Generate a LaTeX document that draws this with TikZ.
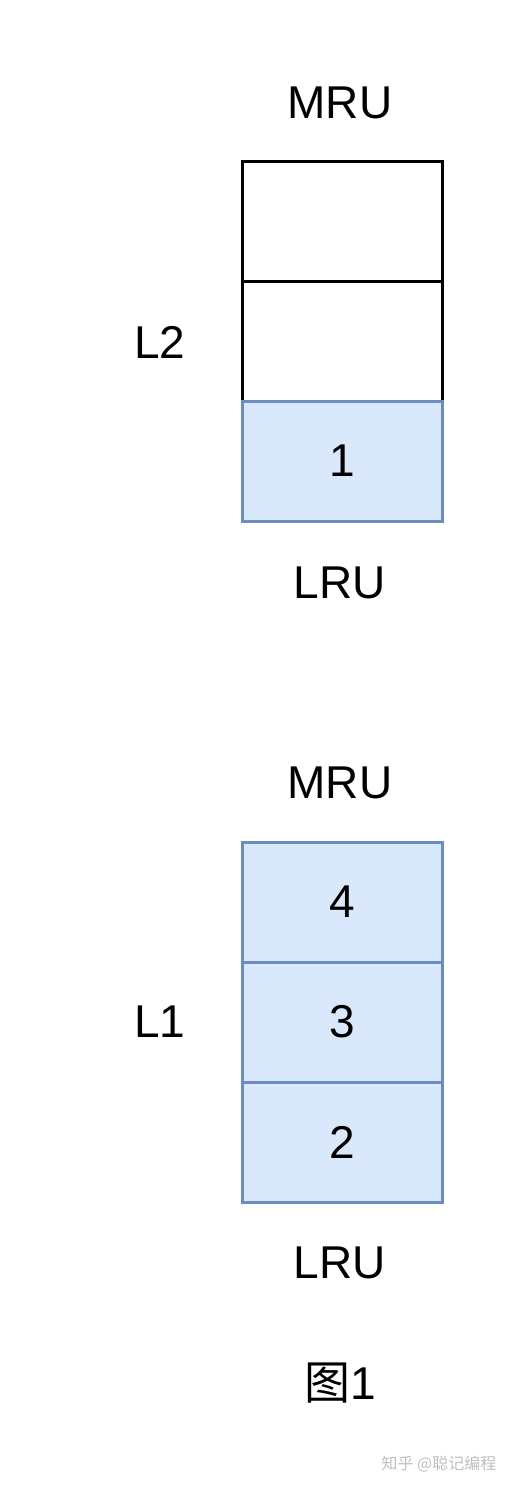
\documentclass[tikz,border=0pt]{standalone}
\usepackage{fontspec}
\setmainfont{Liberation Sans}
\newfontfamily\cjk{Noto Sans CJK SC}
\begin{document}
\begin{tikzpicture}[x=1pt,y=-1pt,
  cell/.style={draw=black,line width=3pt,minimum width=200pt,minimum height=120pt,inner sep=0pt,
    font=\fontsize{46}{55}\selectfont},
  bluecell/.style={cell,draw=blue3,fill=blue1},
  lbl/.style={inner sep=0pt,font=\fontsize{46}{55}\selectfont}]
\definecolor{blue1}{HTML}{DAE8FC}
\definecolor{blue3}{HTML}{6C8EBF}
\useasboundingbox (0,0) rectangle (508,1488);
% L2
\node[lbl] (mru2) at (340,103) {MRU};
\node[cell] (a1) at (342,221) {};
\node[cell] (a2) at (342,341) {};
\node[bluecell] (a3) at (342,461) {1};
\node[lbl] (lru2) at (340,583) {LRU};
\node[lbl] (l2) at (160,342) {L2};
% L1
\node[lbl] (mru1) at (340,783) {MRU};
\node[bluecell] (b1) at (342,902) {4};
\node[bluecell] (b2) at (342,1022) {3};
\node[bluecell] (b3) at (342,1142) {2};
\node[lbl] (lru1) at (340,1263) {LRU};
\node[lbl] (l1) at (160,1022) {L1};
% caption
\node[lbl] (cap) at (340,1383) {{\cjk 图}1};
\node[inner sep=0pt,text=black!25,font=\cjk\fontsize{16}{18}\selectfont] (wm) at (439,1464) {知乎 @聪记编程};
\end{tikzpicture}
\end{document}
